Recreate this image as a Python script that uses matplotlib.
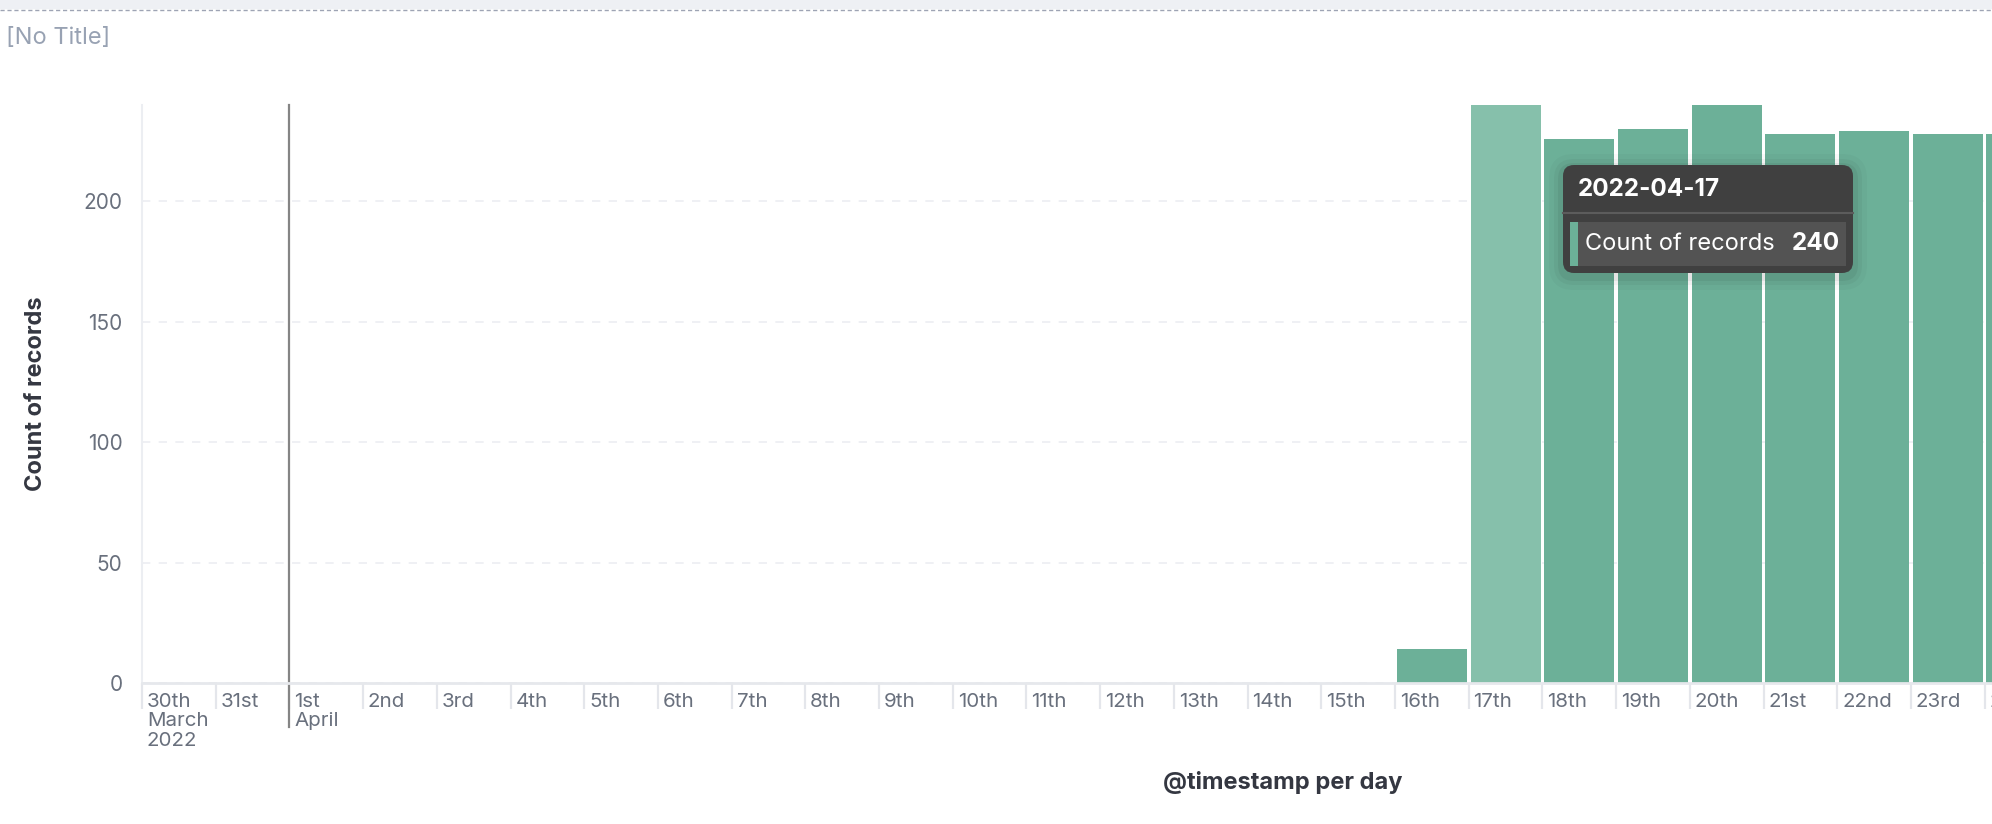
import matplotlib
matplotlib.use('Agg')
import matplotlib.pyplot as plt
import matplotlib.transforms as mtransforms
from matplotlib.patches import FancyBboxPatch, Rectangle
from matplotlib.lines import Line2D
import pandas as pd

plt.rcParams['font.family'] = ['Inter', 'DejaVu Sans']

# data
dates = ['2022-04-16', '2022-04-17', '2022-04-18', '2022-04-19', '2022-04-20',
         '2022-04-21', '2022-04-22', '2022-04-23', '2022-04-24']
counts = [14, 240, 226, 230, 240, 228, 229, 228, 228]
hover_date = '2022-04-17'

tick_days = pd.date_range('2022-03-30', '2022-04-24', freq='D')
tick_labels = ['30th\nMarch\n2022', '31st', '1st\nApril', '2nd', '3rd', '4th', '5th', '6th',
               '7th', '8th', '9th', '10th', '11th', '12th', '13th', '14th', '15th', '16th',
               '17th', '18th', '19th', '20th', '21st', '22nd', '23rd', '24th']
week_ticks = ['2022-04-04', '2022-04-11']
month_start = '2022-04-01'
y_ticks = [0, 50, 100, 150, 200]

W, H = 1992, 824
fig = plt.figure(figsize=(W / 100, H / 100), dpi=100)
ax = fig.add_axes([142 / W, (H - 683) / H, 1 - 142 / W, (683 - 105) / H])

# bars
x = pd.to_datetime(dates)
bar_colors = ['#86c0ab' if d == hover_date else '#6cb098' for d in dates]
ax.bar(x + pd.Timedelta(hours=0.6), counts, width=0.95, align='edge',
       color=bar_colors, zorder=3)

ax.set_xlim(pd.Timestamp('2022-03-30'), pd.Timestamp('2022-03-30') + pd.Timedelta(days=25.1))
ax.set_ylim(0, 240)

# axes styling
for s in ['top', 'right']:
    ax.spines[s].set_visible(False)
ax.spines['left'].set_color('#eceef2')
ax.spines['left'].set_linewidth(1.5)
ax.spines['bottom'].set_color('#e6e8ec')
ax.spines['bottom'].set_linewidth(2)
ax.spines['bottom'].set_zorder(5)

ax.set_yticks(y_ticks)
ax.tick_params(axis='y', length=0, pad=14, labelsize=15, labelcolor='#69707d')
ax.yaxis.grid(True, color='#eceef2', linestyle=(0, (5, 5)), linewidth=1.2)
ax.set_axisbelow(True)

ax.set_xticks(tick_days)
ax.set_xticklabels([])
ax.tick_params(axis='x', length=18.5, width=1.6, color='#e4e6eb', direction='out')
for t, d in zip(ax.xaxis.get_major_ticks(), tick_days):
    if d.strftime('%Y-%m-%d') in week_ticks:
        t.tick1line.set_color('#a9aeb8')

for d, lbl in zip(tick_days, tick_labels):
    ax.annotate(lbl, xy=(d, 0), xycoords=('data', 'axes fraction'),
                xytext=(3.5, -7), textcoords='offset points', ha='left', va='top',
                fontsize=14.8, color='#69707d', linespacing=1.1, annotation_clip=False)

# month boundary marker
ax.axvline(pd.Timestamp(month_start), ymin=-0.076, ymax=1, color='#858585',
           lw=1.6, clip_on=False, zorder=4)

# axis titles
fig.text(36 / W, 1 - 394 / H, 'Count of records', rotation=90, ha='center', va='center',
         fontsize=17, fontweight='bold', color='#343741')
fig.text(1283 / W, 1 - 783 / H, '@timestamp per day', ha='center', va='center',
         fontsize=17, fontweight='bold', color='#343741')

# panel header
fig.patches.append(Rectangle((0, 1 - 8 / H), 1, 8 / H, transform=fig.transFigure,
                             color='#eef0f4', zorder=0))
fig.add_artist(Line2D([0, 1], [1 - 10 / H] * 2, transform=fig.transFigure,
                      color='#9ea4b4', linestyle=(0, (3, 2)), lw=1))
fig.text(6 / W, 1 - 38 / H, '[No Title]', ha='left', va='center', fontsize=17,
         color='#98a2b3')

# tooltip (pixel coordinates)
px = mtransforms.IdentityTransform()
for grow, a in [(14, 0.025), (9, 0.035), (5, 0.05)]:
    fig.patches.append(FancyBboxPatch((1563 - grow, 551 - grow - 3), 290 + 2 * grow, 108 + 2 * grow,
                                      boxstyle='round,pad=0,rounding_size=%d' % (11 + grow),
                                      transform=px, facecolor='black', edgecolor='none',
                                      alpha=a, zorder=10))
fig.patches.append(FancyBboxPatch((1563, 551), 290, 108,
                                  boxstyle='round,pad=0,rounding_size=11',
                                  transform=px, facecolor='#404040', edgecolor='none', zorder=11))
fig.add_artist(Line2D([1563, 1853], [611, 611], transform=px, color='#5c5c5c', lw=1.5, zorder=12))
fig.patches.append(Rectangle((1570, 558), 276, 44, transform=px, facecolor='#535353',
                             edgecolor='none', zorder=12))
fig.patches.append(Rectangle((1570, 558), 8, 44, transform=px, facecolor='#6cb098',
                             edgecolor='none', zorder=13))
fig.text(1578, 634, hover_date, transform=px, ha='left', va='center', fontsize=17.5,
         fontweight='bold', color='white', zorder=13)
fig.text(1585, 580, 'Count of records', transform=px, ha='left', va='center', fontsize=17,
         color='white', zorder=13)
fig.text(1840, 580, str(counts[dates.index(hover_date)]), transform=px, ha='right', va='center',
         fontsize=17.5, fontweight='bold', color='white', zorder=13)

fig.savefig('out.png', dpi=100)
